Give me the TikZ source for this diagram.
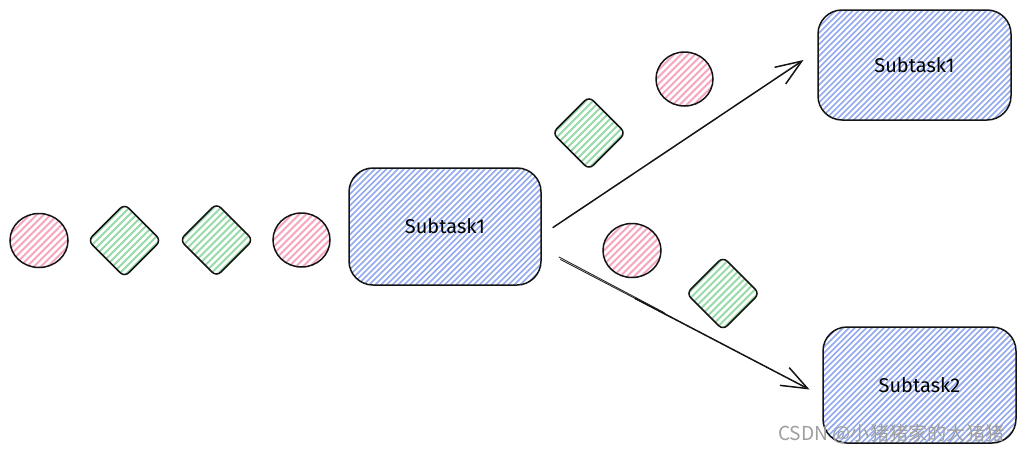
\documentclass[tikz,border=0pt]{standalone}
\usepackage{fontspec}
\setmainfont{Fira Sans}
\newfontfamily\cjkwm{Noto Sans CJK SC}
\usetikzlibrary{shapes.geometric,arrows.meta,calc}
\definecolor{hblue}{HTML}{93A9EF}
\definecolor{hpink}{HTML}{F5A6BE}
\definecolor{hgreen}{HTML}{96DAA7}
\tikzset{
  hatchfill/.style n args={3}{path picture={
    \foreach \k in {-50,...,50}{
      \draw[#1,line width=#3,line cap=round]
        ($(path picture bounding box.center)+({\k*#2-140},140)$) -- ++(280,-280);
    }}},
  sketch/.style={draw=black!92,line width=1.5pt,inner sep=0pt,outer sep=0pt},
  taskbox/.style={sketch,rectangle,rounded corners=24pt,hatchfill={hblue}{5.8}{1.6pt},
    font=\fontsize{20}{22}\selectfont,text=black},
  pinkdot/.style={sketch,ellipse,minimum width=58pt,minimum height=54pt,hatchfill={hpink}{7}{1.9pt}},
  greendia/.style={sketch,diamond,rounded corners=6pt,aspect=1,minimum width=73pt,minimum height=73pt,hatchfill={hgreen}{7}{1.9pt}},
  flow/.style={draw=black!92,line width=1.5pt,line cap=round,line join=round,
    -{Straight Barb[length=26pt,width=20pt,line width=1.5pt]}},
  thinflow/.style={draw=black!85,line width=.9pt,line cap=round},
  watermark/.style={inner sep=0pt,text=black!38,font=\fontsize{19.2}{21}\selectfont\cjkwm,anchor=west}
}
\begin{document}
\begin{tikzpicture}[x=1pt,y=-1pt]
\useasboundingbox (0,0) rectangle (1025,453);
\node[pinkdot] (c1) at (39,240.5) {};
\node[greendia] (d1) at (124.5,240.5) {};
\node[greendia] (d2) at (216.5,240) {};
\node[pinkdot,minimum width=57pt] (c2) at (301.5,240) {};
\node[taskbox,minimum width=192pt,minimum height=117pt] (main) at (445,226.5) {Subtask1};
\node[greendia] (d3) at (589,133) {};
\node[pinkdot,minimum width=57pt] (c3) at (684.5,79) {};
\node[pinkdot] (c4) at (632,250.5) {};
\node[greendia] (d4) at (723,293.5) {};
\node[taskbox,minimum width=193pt,minimum height=110pt] (s1) at (914.5,65) {Subtask1};
\node[taskbox,minimum width=193pt,minimum height=116pt] (s2) at (919.5,385) {Subtask2};
\coordinate (a1) at ($(main.east)+(12,1)$);
\coordinate (b1) at ($(s1.west)+(-14.5,-5)$);
\coordinate (a2) at ($(main.east)+(18,30.5)$);
\coordinate (a3) at ($(main.east)+(19.5,33)$);
\coordinate (b2) at ($(s2.west)+(-13.5,4.5)$);
\draw[flow] (a1) -- (b1);
\draw[thinflow] (a3) -- ($(a3)!.45!(b2)$);
\draw[thinflow] (a2) -- ($(a2)!.42!(b2)$);
\draw[flow] ($(a3)!.3!(b2)$) -- (b2);
\node[watermark] (wm) at (778,434.5) {CSDN @小猪猪家的大猪猪};
\end{tikzpicture}
\end{document}
